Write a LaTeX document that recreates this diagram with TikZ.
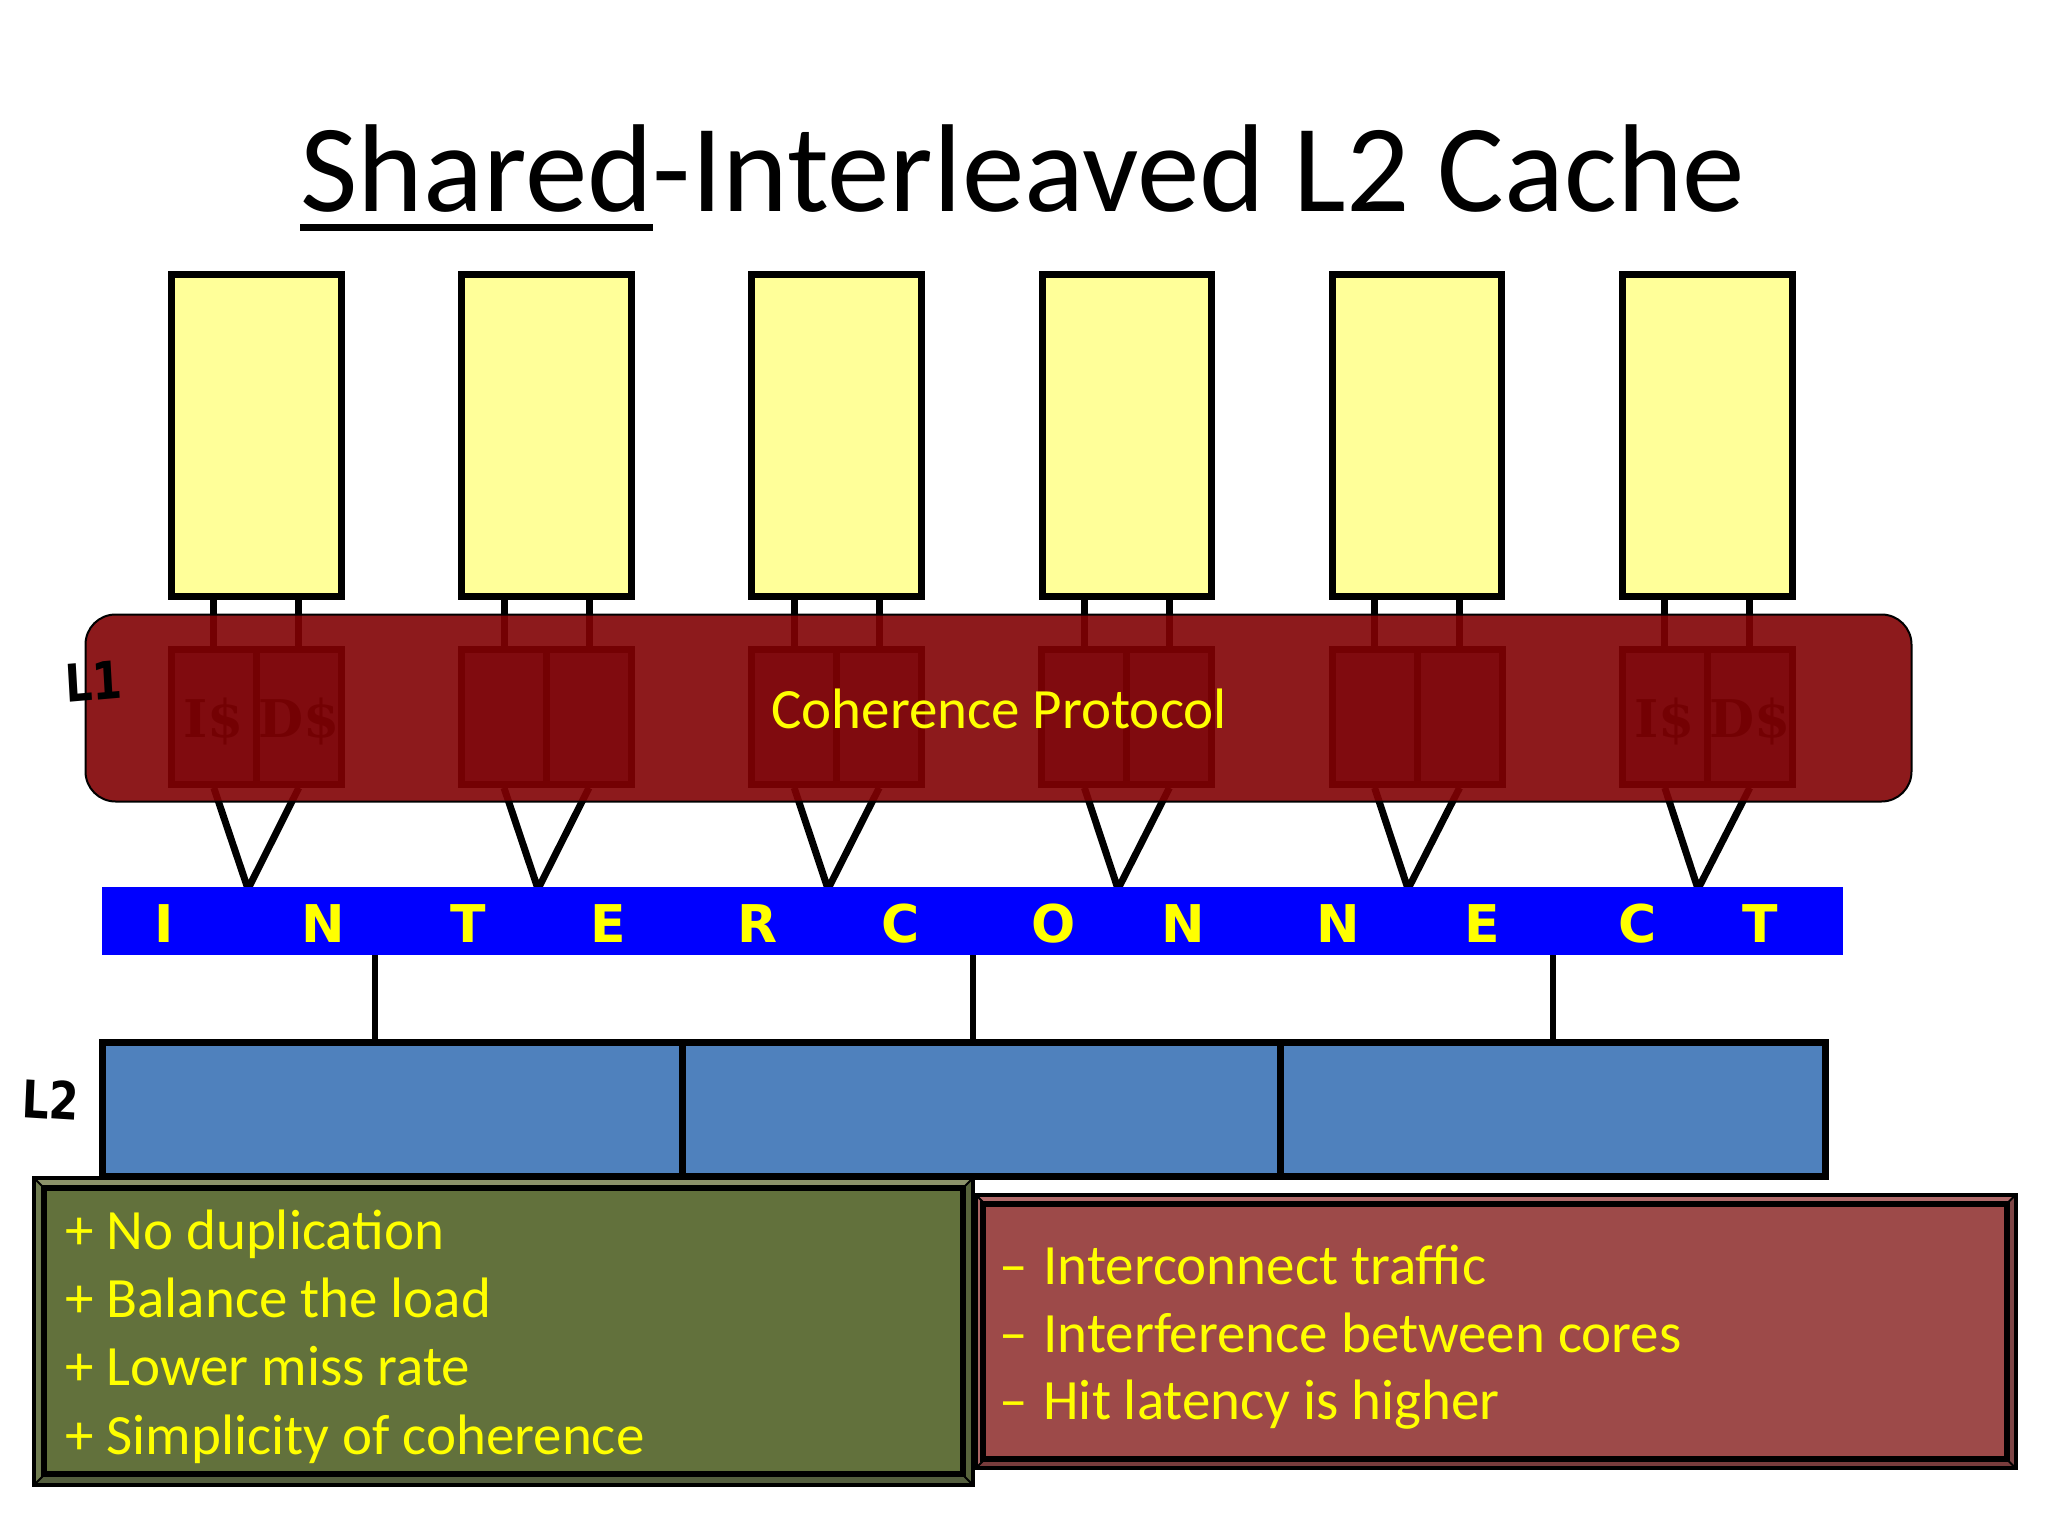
\documentclass[tikz,border=0pt]{standalone}
\usepackage{fontspec}
\setmainfont{Carlito}
\newfontfamily\barfont{DejaVu Sans}
\newfontfamily\cachefont{DejaVu Serif}
\newfontfamily\handfont{DejaVu Sans}
\definecolor{coreY}{RGB}{255,255,153}
\definecolor{cacheF}{RGB}{120,100,120}
\definecolor{overlayR}{RGB}{129,2,4}
\definecolor{busB}{RGB}{0,0,255}
\definecolor{ltwo}{RGB}{79,129,189}
\definecolor{txtY}{RGB}{255,255,0}
\definecolor{gF}{RGB}{98,113,60}
\definecolor{gT}{RGB}{140,146,106}
\definecolor{gL}{RGB}{112,124,80}
\definecolor{gR}{RGB}{88,100,60}
\definecolor{gB}{RGB}{84,94,62}
\definecolor{rF}{RGB}{157,74,73}
\definecolor{rT}{RGB}{176,106,106}
\definecolor{rL}{RGB}{170,100,100}
\definecolor{rR}{RGB}{126,70,70}
\definecolor{rB}{RGB}{120,60,60}
\newcommand{\bevelframe}[9]{%
  % x0 y0 x1 y1 inset top left right bottom
  \pgfmathsetmacro{\ax}{#1+#5}\pgfmathsetmacro{\ay}{#2+#5}
  \pgfmathsetmacro{\bx}{#3-#5}\pgfmathsetmacro{\by}{#4-#5}
  \fill[#6] (#1,#2)--(#3,#2)--(\bx,\ay)--(\ax,\ay)--cycle;
  \fill[#7] (#1,#2)--(#1,#4)--(\ax,\by)--(\ax,\ay)--cycle;
  \fill[#8] (#3,#2)--(#3,#4)--(\bx,\by)--(\bx,\ay)--cycle;
  \fill[#9] (#1,#4)--(#3,#4)--(\bx,\by)--(\ax,\by)--cycle;
  \draw[line width=2pt] (#1,#2)--(\ax,\ay) (#3,#2)--(\bx,\ay) (#1,#4)--(\ax,\by) (#3,#4)--(\bx,\by);
  \draw[line width=4pt] (#1,#2) rectangle (#3,#4);
}
\tikzset{
  corebox/.style={draw=black,fill=coreY,line width=7pt,inner sep=0pt,minimum width=169.5pt,minimum height=322pt},
  cachecell/.style={draw=black,fill=cacheF,line width=7pt,inner sep=0pt,minimum width=85pt,minimum height=134.5pt},
  wire/.style={draw=black,line width=7pt},
  cachelab/.style={inner sep=0pt,anchor=base,text=black,font=\cachefont\bfseries\fontsize{52}{52}\selectfont},
  l2cell/.style={draw=black,fill=ltwo,line width=7pt,inner sep=0pt,minimum height=134pt},
  busletter/.style={inner sep=0pt,anchor=base,text=txtY,font=\barfont\bfseries\fontsize{52}{52}\selectfont},
  yell/.style={inner sep=0pt,anchor=base west,text=txtY,font=\fontsize{57}{57}\selectfont},
  levellab/.style={inner sep=0pt,anchor=base,text=black,font=\handfont\bfseries\fontsize{52}{52}\selectfont,xscale=.82},
  innerg/.style={draw=black,fill=gF,line width=6pt,inner sep=0pt},
  innerr/.style={draw=black,fill=rF,line width=6pt,inner sep=0pt},
}
\begin{document}
\begin{tikzpicture}[x=1pt,y=-1pt]
\useasboundingbox (0,0) rectangle (2048,1536);
\fill[white] (0,0) rectangle (2048,1536);
% title
\node[inner sep=0pt,anchor=base west,font=\fontsize{125}{125}\selectfont] (title) at (300,211) {Shared-Interleaved L2 Cache};
\coordinate (ulA) at (300,227);
\coordinate (ulB) at (653,227);
\draw[line width=7pt] (ulA) -- (ulB);
% cores and caches
\foreach \i in {1,...,6}{
  \pgfmathsetmacro{\cx}{256.3+(\i-1)*290.2}
  \pgfmathsetmacro{\ix}{\cx-42.5}
  \pgfmathsetmacro{\dx}{\cx+42.5}
  \pgfmathsetmacro{\apx}{248+(\i-1)*290}
  \node[corebox] (core\i) at (\cx,435.5) {};
  \node[cachecell] (icache\i) at (\ix,717) {};
  \node[cachecell] (dcache\i) at (\dx,717) {};
  \coordinate (apex\i) at (\apx,889);
  \draw[wire] (core\i.south -| icache\i.north) -- (icache\i.north);
  \draw[wire] (core\i.south -| dcache\i.north) -- (dcache\i.north);
  \draw[wire,line join=miter] (icache\i.south) -- (apex\i) -- (dcache\i.south);
}
\node[cachelab] (ilabA) at (213.5,737) {I\$};
\node[cachelab] (dlabA) at (299,737) {D\$};
\node[cachelab] (ilabB) at (1664.5,737) {I\$};
\node[cachelab] (dlabB) at (1750,737) {D\$};
% translucent L1 band
\node[draw=black,line width=2pt,fill=overlayR,fill opacity=.9,text opacity=1,rounded corners=30pt,inner sep=0pt,minimum width=1826pt,minimum height=187pt] (band) at (998.5,708) {};
\node[inner sep=0pt,anchor=base,text=txtY,font=\fontsize{57}{57}\selectfont] (proto) at (999,728) {Coherence Protocol};
\node[levellab,rotate=4] (labL1) at (95,700) {L1};
\node[levellab,rotate=-3] (labL2) at (50,1119) {L2};
% interconnect
\node[fill=busB,inner sep=0pt,minimum width=1741pt,minimum height=68pt] (bus) at (972.5,921) {};
\foreach \l/\x [count=\n] in {I/164,N/323,T/468,E/608,R/758,C/901,O/1054,N/1183,N/1338,E/1482,C/1638,T/1760}{
  \node[busletter] (bl\n) at (\x,942) {\l};
}
% L2
\node[l2cell,minimum width=580pt] (ltwoA) at (392,1109.5) {};
\node[l2cell,minimum width=598pt] (ltwoB) at (981,1109.5) {};
\node[l2cell,minimum width=545pt] (ltwoC) at (1552.5,1109.5) {};
\draw[wire,line width=6pt] (bus.south -| 375,0) -- (ltwoA.north -| 375,0);
\draw[wire,line width=6pt] (bus.south -| 973,0) -- (ltwoB.north -| 973,0);
\draw[wire,line width=6pt] (bus.south -| 1553,0) -- (ltwoC.north -| 1553,0);
% con box
\bevelframe{976}{1195}{2015.5}{1468}{8.75}{rT}{rL}{rR}{rB}
\node[innerr,minimum width=1023.5pt,minimum height=255.5pt] (conbox) at (1494.75,1331.25) {};
\node[yell] (c1) at (999,1284) {–\kern3pt{} Interconnect traffic};
\node[yell] (c2) at (999,1352) {–\kern3pt{} Interference between cores};
\node[yell] (c3) at (999,1419) {–\kern3pt{} Hit latency is higher};
% pro box
\bevelframe{34}{1178}{973}{1485}{10}{gT}{gL}{gR}{gB}
\node[innerg,minimum width=919pt,minimum height=286pt] (probox) at (503.5,1331) {};
\node[yell] (p1) at (65,1249) {+ No duplication};
\node[yell] (p2) at (65,1317) {+ Balance the load};
\node[yell] (p3) at (65,1385) {+ Lower miss rate};
\node[yell] (p4) at (65,1454) {+ Simplicity of coherence};
\end{tikzpicture}
\end{document}
